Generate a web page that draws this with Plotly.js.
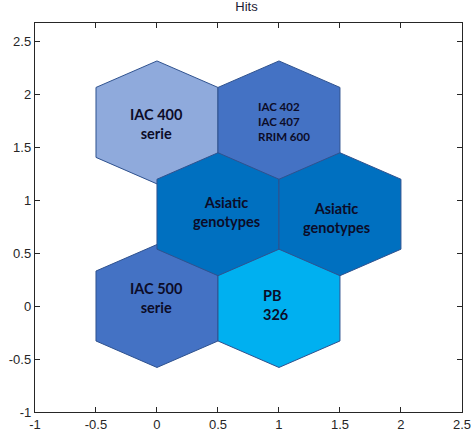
<!DOCTYPE html>
<html>
<head>
<meta charset="utf-8">
<script src="https://cdn.plot.ly/plotly-3.0.1.min.js"></script>
<style>html,body{margin:0;padding:0;background:#fff;}#chart{width:474px;height:434px;}</style>
</head>
<body>
<div id="chart"></div>
<script>
// SOM neuron positions (hexagonal grid) and the cluster labels
var neuronX = [0, 1, 0, 1, 0.5, 1.5];
var neuronY = [1.732, 1.732, 0, 0, 0.866, 0.866];
var neuronLabels = ["IAC 400<br>serie", "IAC 402<br>IAC 407<br>RRIM 600", "IAC 500<br>serie", "PB<br>326", "Asiatic<br>genotypes", "Asiatic<br>genotypes"];
var labelX = [0, 1.04, 0, 0.97, 0.57, 1.47];
var labelY = [1.72, 1.74, 0.08, 0.01, 0.89, 0.83];
var xTicks = [-1, -0.5, 0, 0.5, 1, 1.5, 2, 2.5];
var yTicks = [-1, -0.5, 0, 0.5, 1, 1.5, 2, 2.5];

var fills = ["#8FAADC", "#4472C4", "#4472C4", "#00B0F0", "#0070C0", "#0070C0"];
var fontSizes = [14.5, 11.5, 14.5, 14.5, 14.5, 14.5];
var aligns = ["center", "left", "center", "left", "center", "center"];

// hexagon template (pointy top)
var hw = 0.5, hc = 0.33, hv = 0.58;
var tplX = [0, hw, hw, 0, -hw, -hw, 0];
var tplY = [hv, hc, -hc, -hv, -hc, hc, hv];

var traces = [];
for (var i = 0; i < neuronX.length; i++) {
  traces.push({
    type: "scatter", mode: "lines", fill: "toself",
    x: tplX.map(function (d) { return d + neuronX[i]; }),
    y: tplY.map(function (d) { return d + neuronY[i]; }),
    fillcolor: fills[i],
    line: {color: "#2F528F", width: 1},
    hoverinfo: "skip", showlegend: false
  });
}

var annotations = neuronLabels.map(function (t, i) {
  return {
    x: labelX[i], y: labelY[i], xref: "x", yref: "y", text: t, showarrow: false,
    align: aligns[i],
    font: {family: "Lato, 'Open Sans', sans-serif", size: fontSizes[i], color: "#0c0c28", weight: "bold"}
  };
});

var axisCommon = {
  showgrid: false, zeroline: false, showline: true, linecolor: "#262626", linewidth: 1.2,
  mirror: "ticks", ticks: "inside", ticklen: 5, tickwidth: 1, tickcolor: "#262626",
  ticklabeloverflow: "allow",
  tickfont: {family: "'Liberation Sans', Arial, sans-serif", size: 13, color: "#262626"}
};

var layout = {
  width: 474, height: 434,
  margin: {l: 35, r: 12, t: 23, b: 22},
  paper_bgcolor: "#fff", plot_bgcolor: "#fff",
  title: {text: "Hits", x: 0.52, xanchor: "center", y: 0.985, yanchor: "middle",
    font: {family: "'Liberation Sans', Arial, sans-serif", size: 13, color: "#1a1a33"}},
  xaxis: Object.assign({}, axisCommon, {range: [-1, 2.5005], tickvals: xTicks, ticktext: xTicks.map(String), ticklabelstandoff: 0}),
  yaxis: Object.assign({}, axisCommon, {range: [-1, 2.67], tickvals: yTicks, ticktext: yTicks.map(String)}),
  annotations: annotations
};

Plotly.newPlot("chart", traces, layout, {displayModeBar: false, staticPlot: true});
</script>
</body>
</html>
